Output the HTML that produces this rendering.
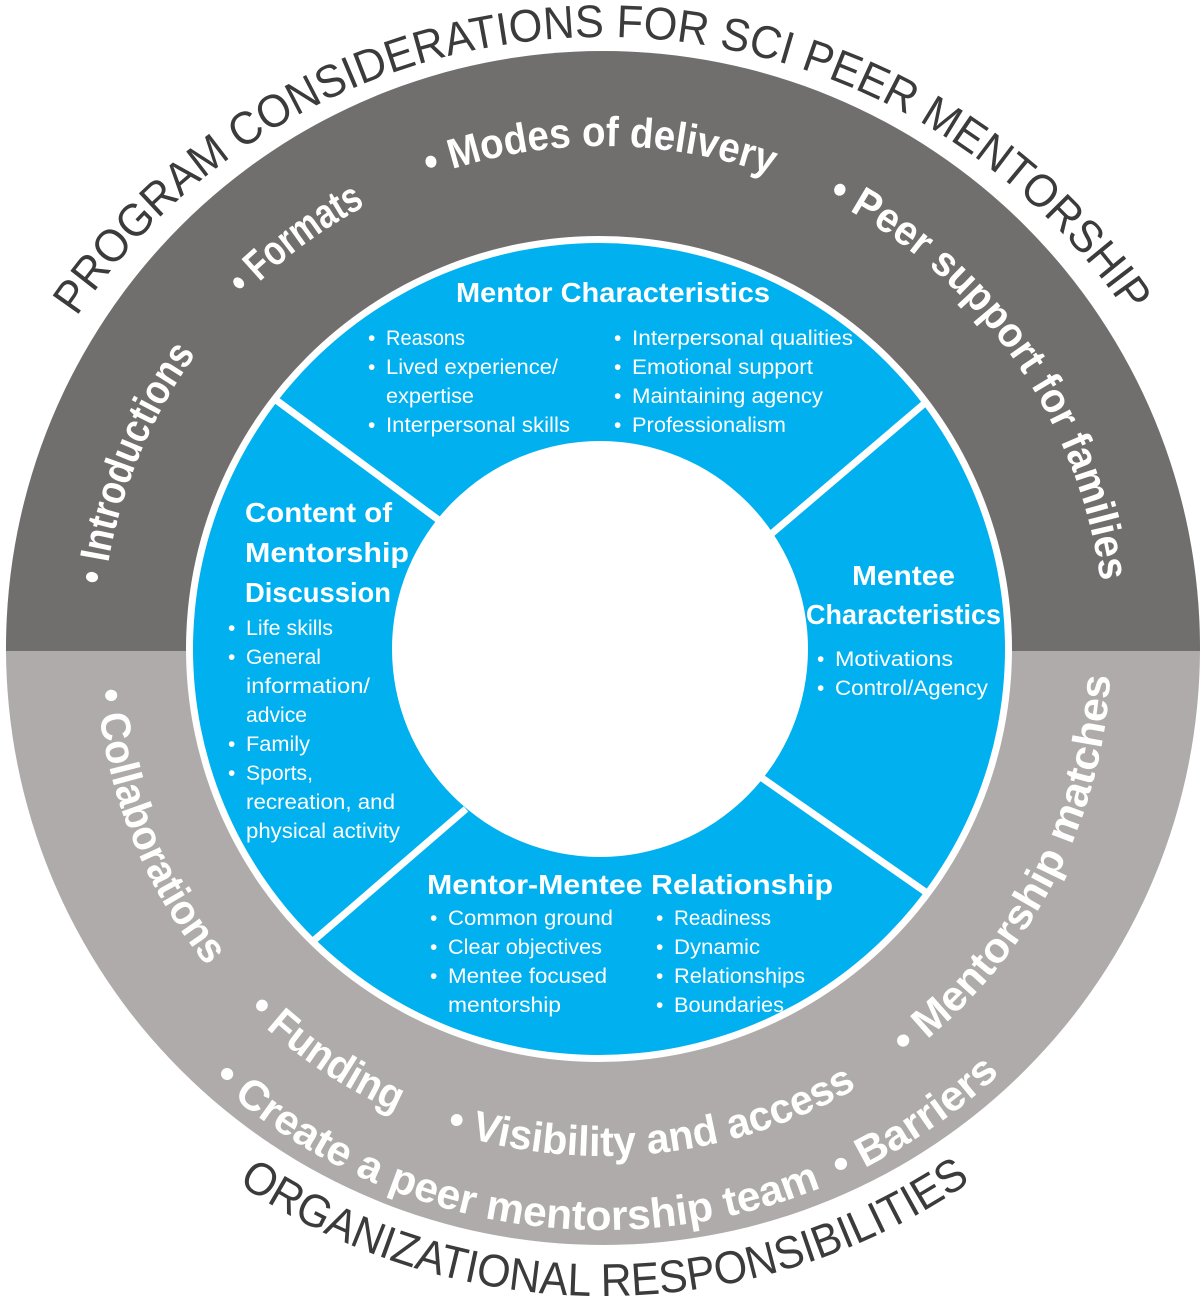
<!DOCTYPE html>
<html><head><meta charset="utf-8"><style>
html,body{margin:0;padding:0;background:#fff;}
svg{display:block;}
text{font-family:"Liberation Sans",sans-serif;}
</style></head><body>
<svg width="1200" height="1296" viewBox="0 0 1200 1296" xmlns="http://www.w3.org/2000/svg">
<defs>
<clipPath id="top"><rect x="0" y="0" width="1200" height="651"/></clipPath>
<clipPath id="bot"><rect x="0" y="651" width="1200" height="700"/></clipPath>
<path id="pTitleTop" d="M -32 672 A 635 635 0 0 1 1238 672"/>
<path id="pTop" d="M 101 648 A 502 502 0 0 1 1105 648"/>
<path id="pBotIn" d="M 95 648 A 508 508 0 0 0 1111 648"/>
<path id="pBotOut" d="M 21 648 A 582 582 0 0 0 1185 648"/>
<path id="pTitleBot" d="M -45 648 A 648 648 0 0 0 1251 648"/>
</defs>
<circle cx="603" cy="648" r="597" fill="#716e6e" clip-path="url(#top)"/>
<circle cx="603" cy="648" r="597" fill="#aeabaa" clip-path="url(#bot)"/>
<circle cx="599" cy="649" r="413" fill="#fff"/>
<circle cx="599" cy="649" r="406" fill="#00b0ef"/>
<circle cx="600" cy="649" r="208" fill="#fff"/>
<g stroke="#fff" stroke-width="7">
<line x1="276" y1="400" x2="440" y2="521"/>
<line x1="925" y1="403" x2="770" y2="535"/>
<line x1="762" y1="778" x2="927" y2="893"/>
<line x1="466" y1="809" x2="312" y2="942"/>
</g>

<!-- titles -->
<g fill="#3b3b3b" font-size="46">
<text><textPath href="#pTitleTop" startOffset="377" textLength="1238" lengthAdjust="spacingAndGlyphs">PROGRAM CONSIDERATIONS FOR SCI PEER MENTORSHIP</textPath></text>
<text><textPath href="#pTitleBot" startOffset="630" textLength="779" lengthAdjust="spacingAndGlyphs">ORGANIZATIONAL RESPONSIBILITIES</textPath></text>
</g>

<!-- gray ring items -->
<g fill="#fff" font-size="42" font-weight="bold">
<text><textPath href="#pTop" startOffset="63" textLength="251" lengthAdjust="spacingAndGlyphs">• Introductions</textPath></text>
<text><textPath href="#pTop" startOffset="389" textLength="152" lengthAdjust="spacingAndGlyphs">• Formats</textPath></text>
<text><textPath href="#pTop" startOffset="611" textLength="349" lengthAdjust="spacingAndGlyphs">• Modes of delivery</textPath></text>
<text><textPath href="#pTop" startOffset="1021" textLength="489" lengthAdjust="spacingAndGlyphs">• Peer support for families</textPath></text>
<text><textPath href="#pBotIn" startOffset="42" textLength="302" lengthAdjust="spacingAndGlyphs">• Collaborations</textPath></text>
<text><textPath href="#pBotIn" startOffset="404" textLength="181" lengthAdjust="spacingAndGlyphs">• Funding</textPath></text>
<text><textPath href="#pBotIn" startOffset="638" textLength="426" lengthAdjust="spacingAndGlyphs">• Visibility and access</textPath></text>
<text><textPath href="#pBotIn" startOffset="1122" textLength="446" lengthAdjust="spacingAndGlyphs">• Mentorship matches</textPath></text>
<text><textPath href="#pBotOut" startOffset="486" textLength="652" lengthAdjust="spacingAndGlyphs">• Create a peer mentorship team</textPath></text>
<text><textPath href="#pBotOut" startOffset="1158" textLength="193" lengthAdjust="spacingAndGlyphs">• Barriers</textPath></text>
</g>

<!-- blue ring text -->
<g fill="#fff">
<g font-weight="bold" font-size="28">
<text x="456" y="302" textLength="314" lengthAdjust="spacingAndGlyphs">Mentor Characteristics</text>
<text x="245" y="522" textLength="147" lengthAdjust="spacingAndGlyphs">Content of</text>
<text x="245" y="562" textLength="164" lengthAdjust="spacingAndGlyphs">Mentorship</text>
<text x="245" y="602" textLength="146" lengthAdjust="spacingAndGlyphs">Discussion</text>
<text x="852" y="585" textLength="103" lengthAdjust="spacingAndGlyphs">Mentee</text>
<text x="806" y="624" textLength="195" lengthAdjust="spacingAndGlyphs">Characteristics</text>
<text x="427" y="894" textLength="406" lengthAdjust="spacingAndGlyphs">Mentor-Mentee Relationship</text>
</g>
<g font-size="21">
<text x="368" y="345">•</text><text x="386" y="345" textLength="79" lengthAdjust="spacingAndGlyphs">Reasons</text>
<text x="368" y="374">•</text><text x="386" y="374" textLength="172" lengthAdjust="spacingAndGlyphs">Lived experience/</text>
<text x="386" y="403" textLength="88" lengthAdjust="spacingAndGlyphs">expertise</text>
<text x="368" y="432">•</text><text x="386" y="432" textLength="184" lengthAdjust="spacingAndGlyphs">Interpersonal skills</text>
<text x="614" y="345">•</text><text x="632" y="345" textLength="221" lengthAdjust="spacingAndGlyphs">Interpersonal qualities</text>
<text x="614" y="374">•</text><text x="632" y="374" textLength="181" lengthAdjust="spacingAndGlyphs">Emotional support</text>
<text x="614" y="403">•</text><text x="632" y="403" textLength="191" lengthAdjust="spacingAndGlyphs">Maintaining agency</text>
<text x="614" y="432">•</text><text x="632" y="432" textLength="154" lengthAdjust="spacingAndGlyphs">Professionalism</text>

<text x="228" y="635">•</text><text x="246" y="635" textLength="87" lengthAdjust="spacingAndGlyphs">Life skills</text>
<text x="228" y="664">•</text><text x="246" y="664" textLength="75" lengthAdjust="spacingAndGlyphs">General</text>
<text x="246" y="693" textLength="124" lengthAdjust="spacingAndGlyphs">information/</text>
<text x="246" y="722" textLength="61" lengthAdjust="spacingAndGlyphs">advice</text>
<text x="228" y="751">•</text><text x="246" y="751" textLength="64" lengthAdjust="spacingAndGlyphs">Family</text>
<text x="228" y="780">•</text><text x="246" y="780" textLength="67" lengthAdjust="spacingAndGlyphs">Sports,</text>
<text x="246" y="809" textLength="149" lengthAdjust="spacingAndGlyphs">recreation, and</text>
<text x="246" y="838" textLength="154" lengthAdjust="spacingAndGlyphs">physical activity</text>

<text x="817" y="666">•</text><text x="835" y="666" textLength="118" lengthAdjust="spacingAndGlyphs">Motivations</text>
<text x="817" y="695">•</text><text x="835" y="695" textLength="153" lengthAdjust="spacingAndGlyphs">Control/Agency</text>

<text x="430" y="925">•</text><text x="448" y="925" textLength="165" lengthAdjust="spacingAndGlyphs">Common ground</text>
<text x="430" y="954">•</text><text x="448" y="954" textLength="154" lengthAdjust="spacingAndGlyphs">Clear objectives</text>
<text x="430" y="983">•</text><text x="448" y="983" textLength="159" lengthAdjust="spacingAndGlyphs">Mentee focused</text>
<text x="448" y="1012" textLength="113" lengthAdjust="spacingAndGlyphs">mentorship</text>
<text x="656" y="925">•</text><text x="674" y="925" textLength="97" lengthAdjust="spacingAndGlyphs">Readiness</text>
<text x="656" y="954">•</text><text x="674" y="954" textLength="86" lengthAdjust="spacingAndGlyphs">Dynamic</text>
<text x="656" y="983">•</text><text x="674" y="983" textLength="131" lengthAdjust="spacingAndGlyphs">Relationships</text>
<text x="656" y="1012">•</text><text x="674" y="1012" textLength="110" lengthAdjust="spacingAndGlyphs">Boundaries</text>
</g>
</g>
</svg>
</body></html>
